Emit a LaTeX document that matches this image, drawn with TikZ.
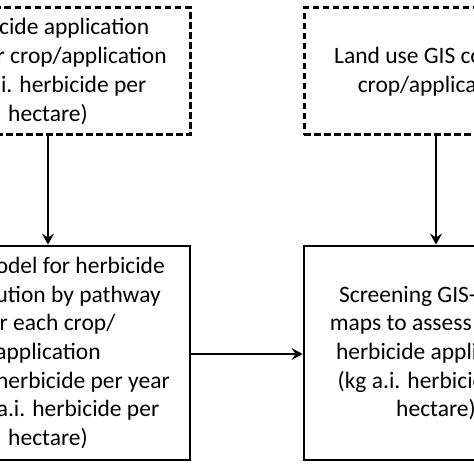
\documentclass[tikz,border=0pt]{standalone}
\usepackage{fontspec}
\setmainfont{Carlito}
\usetikzlibrary{arrows.meta}
\begin{document}
\begin{tikzpicture}[x=1pt, y=1pt,
		input/.style={draw=black, line width=3pt, dash pattern=on 6.5pt off 3.5pt, align=center, inner sep=0pt},
		block/.style={draw=black, line width=2.8pt, align=center, inner sep=0pt},
		flow/.style={line width=1.5pt, -{Stealth[length=11pt, width=12pt, inset=4pt]}}]
		\useasboundingbox (0,0) rectangle (474,474);
		\clip (0,0) rectangle (474,474);
		\fill[white] (0,0) rectangle (474,474);
		\begin{scope}[font=\fontsize{23.5}{28.7}\selectfont]
		\node[input, minimum width=284pt, minimum height=127pt] (rate) at (48,402.5)
			{Herbicide application\\rate per crop/application\\(kg a.i. herbicide per\\hectare)};
		\node[input, minimum width=264pt, minimum height=127pt] (landuse) at (436,402.5)
			{Land use GIS cover of\\crop/application};
		\node[block, minimum width=284pt, minimum height=214pt] (model) at (48,121)
			{Fate model for herbicide\\distribution by pathway\\for each crop/\\application\\(kg a.i. herbicide per year\\or (kg a.i. herbicide per\\hectare)};
		\node[block, minimum width=264pt, minimum height=214pt] (screen) at (436,121)
			{Screening GIS-based\\maps to assess annual\\herbicide application\\(kg a.i. herbicide per\\hectare)};
		\end{scope}
		\draw[flow] (rate) -- (model);
		\draw[flow] (landuse) -- (screen);
		\draw[flow] (model.east |- 0,120) -- (screen.west |- 0,120);
	\end{tikzpicture}
\end{document}
